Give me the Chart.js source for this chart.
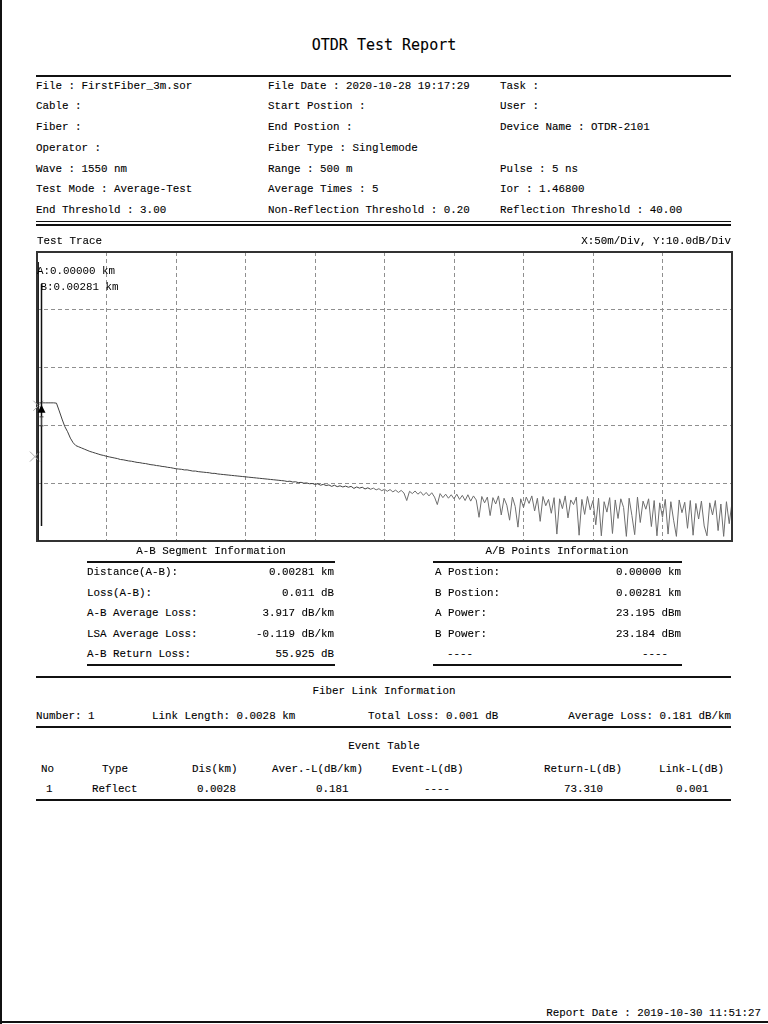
<!DOCTYPE html>
<html><head><meta charset="utf-8">
<script src="https://cdn.jsdelivr.net/npm/chart.js@4.4.1/dist/chart.umd.min.js"></script>
<style>
html,body{margin:0;padding:0;background:#fff;}
#page{position:relative;width:768px;height:1024px;overflow:hidden;background:#fff;font-family:"Liberation Mono",monospace;font-size:10.85px;color:#000;}
.t{position:absolute;white-space:pre;line-height:14px;height:14px;-webkit-text-stroke:0.1px #000;}
.l{position:absolute;background:#111;}
#chartWrap{position:absolute;left:27px;top:242px;width:715px;height:309px;}
</style></head><body><div id="page"><div id="chartWrap"><canvas id="c" width="715" height="309"></canvas></div></div>
<script>
// ---------------- DATA ----------------
const TITLE = "OTDR Test Report";
const infoCol1 = ["File : FirstFiber_3m.sor","Cable :","Fiber :","Operator :","Wave : 1550 nm","Test Mode : Average-Test","End Threshold : 3.00"];
const infoCol2 = ["File Date : 2020-10-28 19:17:29","Start Postion :","End Postion :","Fiber Type : Singlemode","Range : 500 m","Average Times : 5","Non-Reflection Threshold : 0.20"];
const infoCol3 = ["Task :","User :","Device Name : OTDR-2101","","Pulse : 5 ns","Ior : 1.46800","Reflection Threshold : 40.00"];
const traceTitle = "Test Trace";
const traceScaleText = "X:50m/Div, Y:10.0dB/Div";

const segTitle = "A-B Segment Information";
const segLabels = ["Distance(A-B):","Loss(A-B):","A-B Average Loss:","LSA Average Loss:","A-B Return Loss:"];
const segValues = ["0.00281 km","0.011 dB","3.917 dB/km","-0.119 dB/km","55.925 dB"];
const ptTitle = "A/B Points Information";
const ptLabels = ["A Postion:","B Postion:","A Power:","B Power:"];
const ptValues = ["0.00000 km","0.00281 km","23.195 dBm","23.184 dBm"];

const linkTitle = "Fiber Link Information";
const linkItems = ["Number: 1","Link Length: 0.0028 km","Total Loss: 0.001 dB","Average Loss: 0.181 dB/km"];
const eventTitle = "Event Table";
const eventHeaders = ["No","Type","Dis(km)","Aver.-L(dB/km)","Event-L(dB)","Return-L(dB)","Link-L(dB)"];
const eventRow1 = ["1","Reflect","0.0028","0.181","----","73.310","0.001"];
const reportDate = "Report Date : 2019-10-30 11:51:27";

// trace axes (distance in m, level in dB)
const X_MIN_M = 0, X_MAX_M = 500, X_DIV_M = 50;
const Y_MIN_DB = 0, Y_MAX_DB = 50, Y_DIV_DB = 10;
const markerA_km = 0.00000;
const markerB_km = 0.00281;
const crossMarksM = [-1.5, 1.0];
const crossMarksDb = [14.6, 23.4];
const NOISE_START_M = 240;

// OTDR trace, one sample every 2 m from 0 m
const TRACE_START_M = 0;
const TRACE_STEP_M = 2;
const traceDb = [
23.9,23.9,23.9,23.9,23.9,23.9,23.9,23.85,22.5,21.1,
19.8,18.9,17.8,17.0,16.5,16.3,16.1,15.9,15.7,15.5,
15.35,15.2,15.05,14.9,14.8,14.65,14.55,14.45,14.35,14.25,
14.1,14.05,13.95,13.85,13.8,13.7,13.6,13.55,13.45,13.4,
13.3,13.2,13.15,13.05,13.0,12.9,12.85,12.75,12.7,12.6,
12.5,12.45,12.4,12.3,12.3,12.2,12.1,12.1,12.0,11.95,
11.9,11.85,11.8,11.7,11.7,11.6,11.55,11.5,11.45,11.4,
11.35,11.3,11.25,11.2,11.15,11.1,11.05,11.0,10.95,10.9,
10.85,10.8,10.75,10.7,10.65,10.6,10.55,10.5,10.45,10.4,
10.3,10.35,10.2,10.25,10.1,10.15,10.0,10.05,9.9,9.95,
9.8,9.9,9.65,9.8,9.6,9.7,9.45,9.65,9.4,9.55,
9.35,9.5,9.3,9.45,9.1,9.35,9.15,9.3,9.0,9.2,
8.95,9.15,8.85,9.05,8.7,8.95,8.6,8.9,8.5,8.8,
8.4,8.75,8.3,7.0,8.6,8.2,8.65,8.1,8.5,7.9,
8.4,7.8,8.35,7.6,6.3,8.2,7.5,8.1,7.4,8.0,
7.3,8.1,7.2,7.9,7.0,8.0,6.9,7.8,7.1,4.1,
7.7,6.6,7.6,4.4,7.5,6.4,7.8,4.5,7.4,6.2,
3.6,7.6,6.0,2.4,7.3,5.8,7.6,6.5,7.8,5.2,
7.4,3.4,7.7,6.1,7.2,4.8,7.5,1.2,7.3,5.6,
7.8,4.0,7.1,6.3,7.6,1.0,7.2,4.6,7.7,5.4,
7.0,2.8,7.4,0.9,6.8,5.0,7.5,1.3,7.1,3.9,
7.3,5.8,0.8,7.4,4.4,1.1,7.6,3.2,6.9,5.5,
7.3,2.5,7.0,0.9,6.6,4.1,7.2,1.2,6.8,3.6,
0.8,7.1,4.9,6.7,2.2,7.0,1.0,6.5,3.8,6.9,
2.6,0.9,6.6,4.5,7.0,1.8,6.4,0.8,6.8,3.0,
6.7
];

// ---------------- PAGE TEXT ----------------
const page = document.getElementById('page');
function txt(s, x, y, align, extra){
  const d = document.createElement('div');
  d.className = 't'; d.textContent = s;
  d.style.top = (y - 7) + 'px';
  if (align === 'c'){ d.style.left = x + 'px'; d.style.transform = 'translateX(-50%)'; }
  else if (align === 'r'){ d.style.right = (768 - x) + 'px'; }
  else d.style.left = x + 'px';
  if (extra) Object.assign(d.style, extra);
  page.appendChild(d);
}
function line(x1, y, x2, h){
  const d = document.createElement('div');
  d.className = 'l';
  d.style.left = x1 + 'px'; d.style.top = y + 'px';
  d.style.width = (x2 - x1) + 'px'; d.style.height = h + 'px';
  page.appendChild(d);
}
function vline(x, y1, y2, w){
  const d = document.createElement('div');
  d.className = 'l';
  d.style.left = x + 'px'; d.style.top = y1 + 'px';
  d.style.width = w + 'px'; d.style.height = (y2 - y1) + 'px';
  page.appendChild(d);
}

// page frame
vline(0, 0, 1024, 2);
line(0, 1021, 768, 2);

txt(TITLE, 384, 45, 'c', {fontFamily:'"DejaVu Sans Mono",monospace', fontSize:'15px', lineHeight:'18px', height:'18px', top:'36px'});
line(36, 75, 731, 2);
for (let i = 0; i < 7; i++){
  const y = 85.5 + 20.75 * i;
  txt(infoCol1[i], 36, y);
  txt(infoCol2[i], 268, y);
  txt(infoCol3[i], 500, y);
}
line(36, 221, 731, 1);
line(36, 224, 731, 2);

txt(traceTitle, 37, 241);
txt(traceScaleText, 731, 241, 'r');

// segment / points info
txt(segTitle, 211, 551, 'c');
txt(ptTitle, 557, 551, 'c');
line(87, 561, 335, 2);
line(433, 561, 682, 2);
for (let i = 0; i < 5; i++){
  const y = 572.3 + 20.4 * i;
  txt(segLabels[i], 87, y);
  txt(segValues[i], 334, y, 'r');
  if (i < 4){
    txt(ptLabels[i], 435, y);
    txt(ptValues[i], 681, y, 'r');
  } else {
    txt("----", 447, y);
    txt("----", 642, y);
  }
}
line(87, 664, 335, 2);
line(433, 664, 682, 2);

line(36, 676, 731, 2);
txt(linkTitle, 384, 691, 'c');
txt(linkItems[0], 36, 716);
txt(linkItems[1], 152, 716);
txt(linkItems[2], 368, 716);
txt(linkItems[3], 731, 716, 'r');
line(36, 726, 731, 2);
txt(eventTitle, 384, 746, 'c');
const evHeadX = [41, 102, 192, 272, 392, 544, 659];
const evValX = [46, 92, 197, 316, 424, 564, 676];
for (let i = 0; i < eventHeaders.length; i++){
  txt(eventHeaders[i], evHeadX[i], 769);
  txt(eventRow1[i], evValX[i], 789);
}
line(36, 799, 731, 2);
txt(reportDate, 761, 1013, 'r');

// ---------------- CHART ----------------
const markerPlugin = {
  id: 'otdrMarkers',
  afterDraw(chart){
    const ctx = chart.ctx, a = chart.chartArea;
    const xs = chart.scales.x, ys = chart.scales.y;
    ctx.save();
    // frame
    ctx.strokeStyle = '#333'; ctx.lineWidth = 2;
    ctx.strokeRect(a.left, a.top, a.right - a.left, a.bottom - a.top);
    // cross marks
    ctx.strokeStyle = '#aaa'; ctx.lineWidth = 1;
    for (let i = 0; i < crossMarksM.length; i++){
      const cx = xs.getPixelForValue(crossMarksM[i]), cy = ys.getPixelForValue(crossMarksDb[i]);
      ctx.beginPath();
      ctx.moveTo(cx - 5, cy - 5); ctx.lineTo(cx + 5, cy + 5);
      ctx.moveTo(cx + 5, cy - 5); ctx.lineTo(cx - 5, cy + 5);
      ctx.stroke();
    }
    // A marker (coincides with left frame)
    const xA = xs.getPixelForValue(markerA_km * 1000);
    ctx.strokeStyle = '#222'; ctx.lineWidth = 1;
    ctx.beginPath(); ctx.moveTo(xA + 1.5, a.top + 10); ctx.lineTo(xA + 1.5, a.bottom); ctx.stroke();
    // B marker
    const xB = Math.round(xs.getPixelForValue(markerB_km * 1000)) + 0.5;
    ctx.lineWidth = 1.5; ctx.strokeStyle = '#111';
    ctx.beginPath(); ctx.moveTo(xB, a.top + 32); ctx.lineTo(xB, a.bottom - 15); ctx.stroke();
    // arrow on trace at B
    const idx = Math.round((markerB_km * 1000 - TRACE_START_M) / TRACE_STEP_M);
    const yB = ys.getPixelForValue(traceDb[idx]);
    ctx.fillStyle = '#000';
    ctx.beginPath();
    ctx.moveTo(xB, yB + 2); ctx.lineTo(xB - 4, yB + 10); ctx.lineTo(xB + 4, yB + 10); ctx.closePath(); ctx.fill();
    ctx.strokeStyle = '#444'; ctx.lineWidth = 1;
    ctx.beginPath();
    ctx.moveTo(xB - 2, yB + 14); ctx.lineTo(xB + 2, yB + 14);
    ctx.moveTo(xB, yB + 14); ctx.lineTo(xB, yB + 23);
    ctx.moveTo(xB - 2, yB + 23); ctx.lineTo(xB + 2, yB + 23);
    ctx.stroke();
    // labels
    ctx.fillStyle = '#000';
    ctx.font = '10.85px "Liberation Mono", monospace';
    ctx.textBaseline = 'middle'; ctx.textAlign = 'left';
    ctx.fillText('A:' + markerA_km.toFixed(5) + ' km', a.left, a.top + 19.5);
    ctx.fillText('B:' + markerB_km.toFixed(5) + ' km', a.left + 3.5, a.top + 35.5);
    ctx.restore();
  }
};

const gridOpts = {color:'#8f8f8f', lineWidth:1, drawTicks:false};
new Chart(document.getElementById('c').getContext('2d'), {
  type: 'line',
  data: {
    datasets: [{
      data: traceDb.map((v, i) => ({x: TRACE_START_M + i * TRACE_STEP_M, y: v})),
      borderColor: '#404040', borderWidth: 1, pointRadius: 0, tension: 0, fill: false,
      segment: {borderColor: c => (c.p0.parsed.x >= NOISE_START_M ? '#6e6e6e' : '#404040')}
    }]
  },
  options: {
    responsive: false, animation: false, events: [],
    layout: {padding: {left: 10, right: 10, top: 10, bottom: 10}},
    plugins: {legend: {display: false}, tooltip: {enabled: false}, title: {display: false}},
    scales: {
      x: {type: 'linear', min: X_MIN_M, max: X_MAX_M, ticks: {display: false, stepSize: X_DIV_M}, grid: gridOpts, border: {display: false, dash: [4, 3]}},
      y: {type: 'linear', min: Y_MIN_DB, max: Y_MAX_DB, ticks: {display: false, stepSize: Y_DIV_DB}, grid: gridOpts, border: {display: false, dash: [4, 3]}}
    }
  },
  plugins: [markerPlugin]
});
</script></body></html>
